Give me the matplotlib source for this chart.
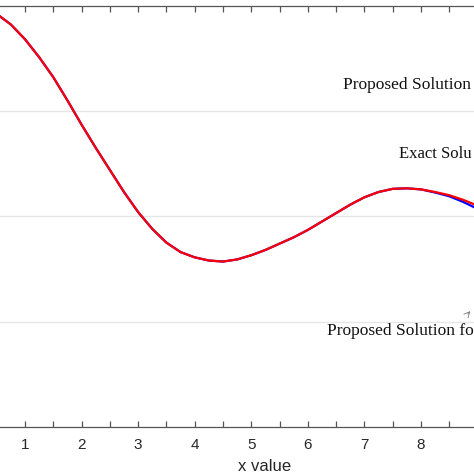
import matplotlib
matplotlib.use("Agg")
import matplotlib.pyplot as plt
from matplotlib.ticker import MultipleLocator, FuncFormatter

# Data (x value vs. solution)
x_vals = [0.50, 0.75, 1.00, 1.25, 1.50, 1.75, 2.00, 2.25, 2.50, 2.75,
          3.00, 3.25, 3.50, 3.75, 4.00, 4.25, 4.50, 4.75, 5.00, 5.25,
          5.50, 5.75, 6.00, 6.25, 6.50, 6.75, 7.00, 7.25, 7.50, 7.75,
          8.00, 8.25, 8.50, 8.75, 9.00]
proposed = [1.92, 1.82, 1.68, 1.51, 1.32, 1.10, 0.87, 0.65, 0.44, 0.23,
            0.04, -0.12, -0.25, -0.34, -0.39, -0.42, -0.43, -0.41, -0.37, -0.32,
            -0.26, -0.20, -0.13, -0.05, 0.03, 0.11, 0.18, 0.23, 0.26, 0.265,
            0.255, 0.23, 0.20, 0.155, 0.10]
exact = [1.92, 1.82, 1.68, 1.51, 1.32, 1.10, 0.87, 0.65, 0.44, 0.23,
         0.04, -0.12, -0.25, -0.34, -0.39, -0.42, -0.43, -0.41, -0.37, -0.32,
         -0.26, -0.20, -0.13, -0.05, 0.03, 0.11, 0.18, 0.23, 0.26, 0.265,
         0.255, 0.225, 0.19, 0.135, 0.07]
visible_tick_labels = [1, 2, 3, 4, 5, 6, 7, 8]
xlabel_text = "x value"
label_proposed = "Proposed Solution"
label_exact = "Exact Solu"
label_proposed2 = "Proposed Solution fo"

W, H = 474, 474
fig = plt.figure(figsize=(4.74, 4.74), dpi=100)

# axes extend beyond the visible canvas (cropped figure)
x_left_px, x_right_px = -31.6, 534.1
y_top_px, y_bot_px = 5.5, 427.0
ax = fig.add_axes([x_left_px / W, (H - y_bot_px) / H,
                   (x_right_px - x_left_px) / W, (y_bot_px - y_top_px) / H])

ax.set_xlim(0, 10)
ax.set_ylim(-2, 2)

ax.plot(x_vals, exact, color="blue", lw=1.6, zorder=3)
ax.plot(x_vals, proposed, color="red", lw=1.6, zorder=4)

ax.set_yticks([-1, 0, 1])
ax.yaxis.grid(True, color="#e6e6e6", lw=1.0)
ax.set_axisbelow(True)
ax.tick_params(axis="y", left=False, labelleft=False)

ax.xaxis.set_major_locator(MultipleLocator(1))
ax.xaxis.set_minor_locator(MultipleLocator(0.5))
ax.xaxis.set_major_formatter(FuncFormatter(
    lambda v, pos: str(int(round(v))) if int(round(v)) in visible_tick_labels else ""))
ax.tick_params(axis="x", which="both", direction="in", top=True, bottom=True,
               length=4, width=0.9, color="#555555", labelsize=11,
               labelcolor="#262626", pad=8, labelfontfamily="Liberation Sans")

for s in ["left", "right"]:
    ax.spines[s].set_visible(False)
for s in ["top", "bottom"]:
    ax.spines[s].set_color("#555555")
    ax.spines[s].set_linewidth(0.9)

ax.set_xlabel(xlabel_text, fontsize=12, fontfamily="Liberation Sans", color="#262626")
ax.xaxis.set_label_coords((265 - x_left_px) / (x_right_px - x_left_px), -0.077)

def px2data(px, py):
    xd = (px - x_left_px) / (x_right_px - x_left_px) * 10
    yd = 2 - (py - y_top_px) / (y_bot_px - y_top_px) * 4
    return xd, yd

for txt, (px, py), fs in [(label_proposed, (343, 89), 12.5),
                          (label_exact, (399, 158), 12.0),
                          (label_proposed2, (327, 335), 12.5)]:
    xd, yd = px2data(px, py)
    ax.text(xd, yd, txt, fontsize=fs, fontfamily="Liberation Serif",
            color="#111111", ha="left", va="baseline", clip_on=False)

a0 = px2data(466, 316)
a1 = px2data(472, 309)
ax.annotate("", xy=a1, xytext=a0,
            arrowprops=dict(arrowstyle="->", color="#777777", lw=0.6))

fig.savefig("out.png", dpi=100)
